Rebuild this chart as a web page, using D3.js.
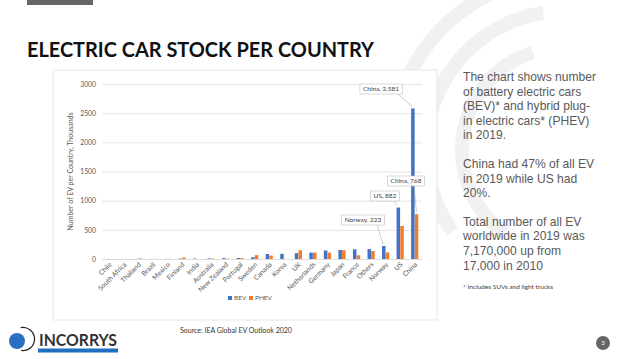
<!DOCTYPE html>
<html><head><meta charset="utf-8">
<script src="https://cdn.jsdelivr.net/npm/d3@7"></script>
<style>html,body{margin:0;padding:0;background:#fff;}svg{display:block;}</style>
</head><body>
<svg id="c" width="638" height="359"></svg>
<script>
const categories = ["Chile","South Africa","Thailand","Brazil","Mexico","Finland","India","Australia","New Zealand","Portugal","Sweden","Canada","Korea","UK","Netherlands","Germany","Japan","France","Others","Norway","US","China"];
const bev  = [1, 1, 2, 1, 2, 7, 7, 10, 15, 17, 29, 86, 89, 100, 109, 146, 154, 166, 171, 223, 882, 2581];
const phev = [0.5, 0.5, 10, 2, 3, 24, 0, 7, 6, 14, 66, 58, 0, 150, 109, 109, 152, 63, 137, 112, 566, 768];
const yTicks = [0, 500, 1000, 1500, 2000, 2500, 3000];
const seriesNames = ["BEV", "PHEV"];
const labelled = [["China","BEV"],["China","PHEV"],["US","BEV"],["Norway","BEV"]];
const bodyLines = [
  ["The chart shows number","of battery electric cars","(BEV)* and hybrid plug-","in electric cars* (PHEV)","in 2019."],
  ["China had 47% of all EV","in 2019 while US had","20%."],
  ["Total number of all EV","worldwide in 2019 was","7,170,000 up from","17,000 in 2010"]
];

const svg = d3.select("#c");
const F = "Lato, 'Open Sans', sans-serif";

// watermark arcs
const wm = svg.append("g").attr("fill","#f1f1f1").attr("transform","translate(565,150)");
[[166,180,-0.62,-0.02],[132,146,-0.7,-0.05],[96,110,-0.8,-0.1]].forEach(([ri,ro,a0,a1])=>{
  wm.append("path").attr("d", d3.arc()({innerRadius:ri,outerRadius:ro,startAngle:Math.PI*a0,endAngle:Math.PI*a1}));
});

// top bar
svg.append("rect").attr("x",27).attr("y",0).attr("width",66).attr("height",5).attr("fill","#666");

// title
svg.append("text").attr("x",27).attr("y",57).attr("font-family",F).attr("font-weight",700)
  .attr("font-size",21).attr("fill","#111").attr("textLength",347).attr("lengthAdjust","spacingAndGlyphs")
  .text("ELECTRIC CAR STOCK PER COUNTRY");

// chart box
svg.append("rect").attr("x",53).attr("y",70).attr("width",384).attr("height",250).attr("fill","#fff").attr("stroke","#e6e6e6").attr("stroke-width",1);

const plot = {l:102, r:422, t:84, b:259};
const x = d3.scaleBand().domain(categories).range([plot.l, plot.r]).paddingInner(0.48).paddingOuter(0.24);
const xs = d3.scaleBand().domain(seriesNames).range([0, x.bandwidth()]).padding(0.05);
const y = d3.scaleLinear().domain([0,3000]).range([plot.b, plot.t]);
const colors = {BEV:"#4472C4", PHEV:"#ED7D31"};

// grid
const yAxis = d3.axisLeft(y).tickValues(yTicks).tickSize(-(plot.r-plot.l)).tickFormat(d3.format("d"));
const gy = svg.append("g").attr("transform",`translate(${plot.l},0)`).call(yAxis);
gy.select(".domain").remove();
gy.selectAll(".tick line").attr("stroke","#d9d9d9").attr("stroke-width",0.7);
gy.selectAll(".tick text").attr("font-family",F).attr("font-size",6.8).attr("fill","#595959").attr("x",-6);

svg.append("text").attr("transform",`translate(73,${(plot.t+plot.b)/2}) rotate(-90)`).attr("text-anchor","middle")
  .attr("font-family",F).attr("font-size",7).attr("fill","#595959").text("Number of EV per Country, Thousands");

// bars
const data = categories.map((c,i)=>({c, vals:[{s:"BEV",v:bev[i]},{s:"PHEV",v:phev[i]}]}));
const g = svg.append("g");
const grp = g.selectAll("g").data(data).join("g").attr("transform",d=>`translate(${x(d.c)},0)`);
grp.selectAll("rect").data(d=>d.vals).join("rect")
  .attr("x",d=>xs(d.s)).attr("width",xs.bandwidth())
  .attr("y",d=>y(d.v)).attr("height",d=>plot.b-y(d.v)).attr("fill",d=>colors[d.s]);

// x axis
const xAxis = d3.axisBottom(x).tickSize(0);
const gx = svg.append("g").attr("transform",`translate(0,${plot.b})`).call(xAxis);
gx.select(".domain").attr("stroke","#d9d9d9").attr("stroke-width",0.7);
gx.selectAll(".tick text").attr("font-family",F).attr("font-size",6.8).attr("fill","#595959")
  .attr("text-anchor","end").attr("dy",0).attr("y",0)
  .attr("transform","translate(3,6) rotate(-45)");

// legend
const lg = svg.append("g").attr("font-family",F).attr("font-size",6.5).attr("fill","#595959");
[[228,"BEV"],[249,"PHEV"]].forEach(([lx,s])=>{
  lg.append("rect").attr("x",lx).attr("y",296).attr("width",4).attr("height",4).attr("fill",colors[s]);
  lg.append("text").attr("x",lx+6).attr("y",300.3).text(s);
});

// data callouts
const labelLayout = {
  "China|BEV":  {bx:381, by:89,  lx1:397, ly1:93, dx:-1},
  "China|PHEV": {bx:406, by:181, lx1:414, ly1:186, dx:0},
  "US|BEV":     {bx:385, by:196, lx1:393, ly1:200, dx:-1},
  "Norway|BEV": {bx:363, by:220, lx1:377, ly1:224, dx:-1}
};
const fmt = d3.format(",");
labelled.forEach(([c,s])=>{
  const i = categories.indexOf(c);
  const v = s==="BEV"?bev[i]:phev[i];
  const L = labelLayout[c+"|"+s];
  const bxPos = x(c)+xs(s)+xs.bandwidth()/2;
  svg.append("line").attr("x1",L.lx1).attr("y1",L.ly1).attr("x2",bxPos+L.dx).attr("y2",y(v)-2)
    .attr("stroke","#a6a6a6").attr("stroke-width",0.6);
  const t = svg.append("text").attr("x",L.bx).attr("y",L.by+2.3).attr("text-anchor","middle")
    .attr("font-family",F).attr("font-size",6.5).attr("fill","#404040").text(`${c}, ${fmt(v)}`);
  const bb = t.node().getBBox();
  svg.insert("rect", () => t.node()).attr("x",bb.x-3).attr("y",L.by-5).attr("width",bb.width+6).attr("height",10)
    .attr("fill","#fff").attr("stroke","#bfbfbf").attr("stroke-width",0.6);
});

// right text
const rt = svg.append("g").attr("font-family","'Liberation Sans', Arial, sans-serif").attr("font-size",12.1).attr("fill","#595959");
let yy = 81;
bodyLines.forEach((p,pi)=>{
  p.forEach(line=>{ rt.append("text").attr("x",463).attr("y",yy).text(line); yy += 14.6; });
  yy += 14;
});
svg.append("text").attr("x",463).attr("y",289).attr("font-family",F).attr("font-size",6.5).attr("fill","#404040")
  .text("* Includes SUVs and light trucks");

// source
svg.append("text").attr("x",180).attr("y",333).attr("font-family",F).attr("font-size",7).attr("fill","#333")
  .text("Source: IEA Global EV Outlook 2020");

// logo
svg.append("circle").attr("cx",17).attr("cy",341).attr("r",8).attr("fill","#2a6fc2");
svg.append("path").attr("d", d3.arc()({innerRadius:11,outerRadius:12.2,startAngle:-0.2,endAngle:Math.PI*1.05})).attr("transform","translate(23,339)").attr("fill","#222");
svg.append("text").attr("x",39).attr("y",346).attr("font-family",F).attr("font-weight",700).attr("font-size",17).attr("fill","#333")
  .attr("textLength",78).attr("lengthAdjust","spacingAndGlyphs").text("INCORRYS");
svg.append("rect").attr("x",38).attr("y",348.5).attr("width",80).attr("height",4).attr("fill","#1f6fc0");

// page number
svg.append("circle").attr("cx",603).attr("cy",343).attr("r",7).attr("fill","#666");
svg.append("text").attr("x",603).attr("y",345.3).attr("text-anchor","middle").attr("font-family",F).attr("font-size",6).attr("fill","#fff").text("3");
</script>
</body></html>
